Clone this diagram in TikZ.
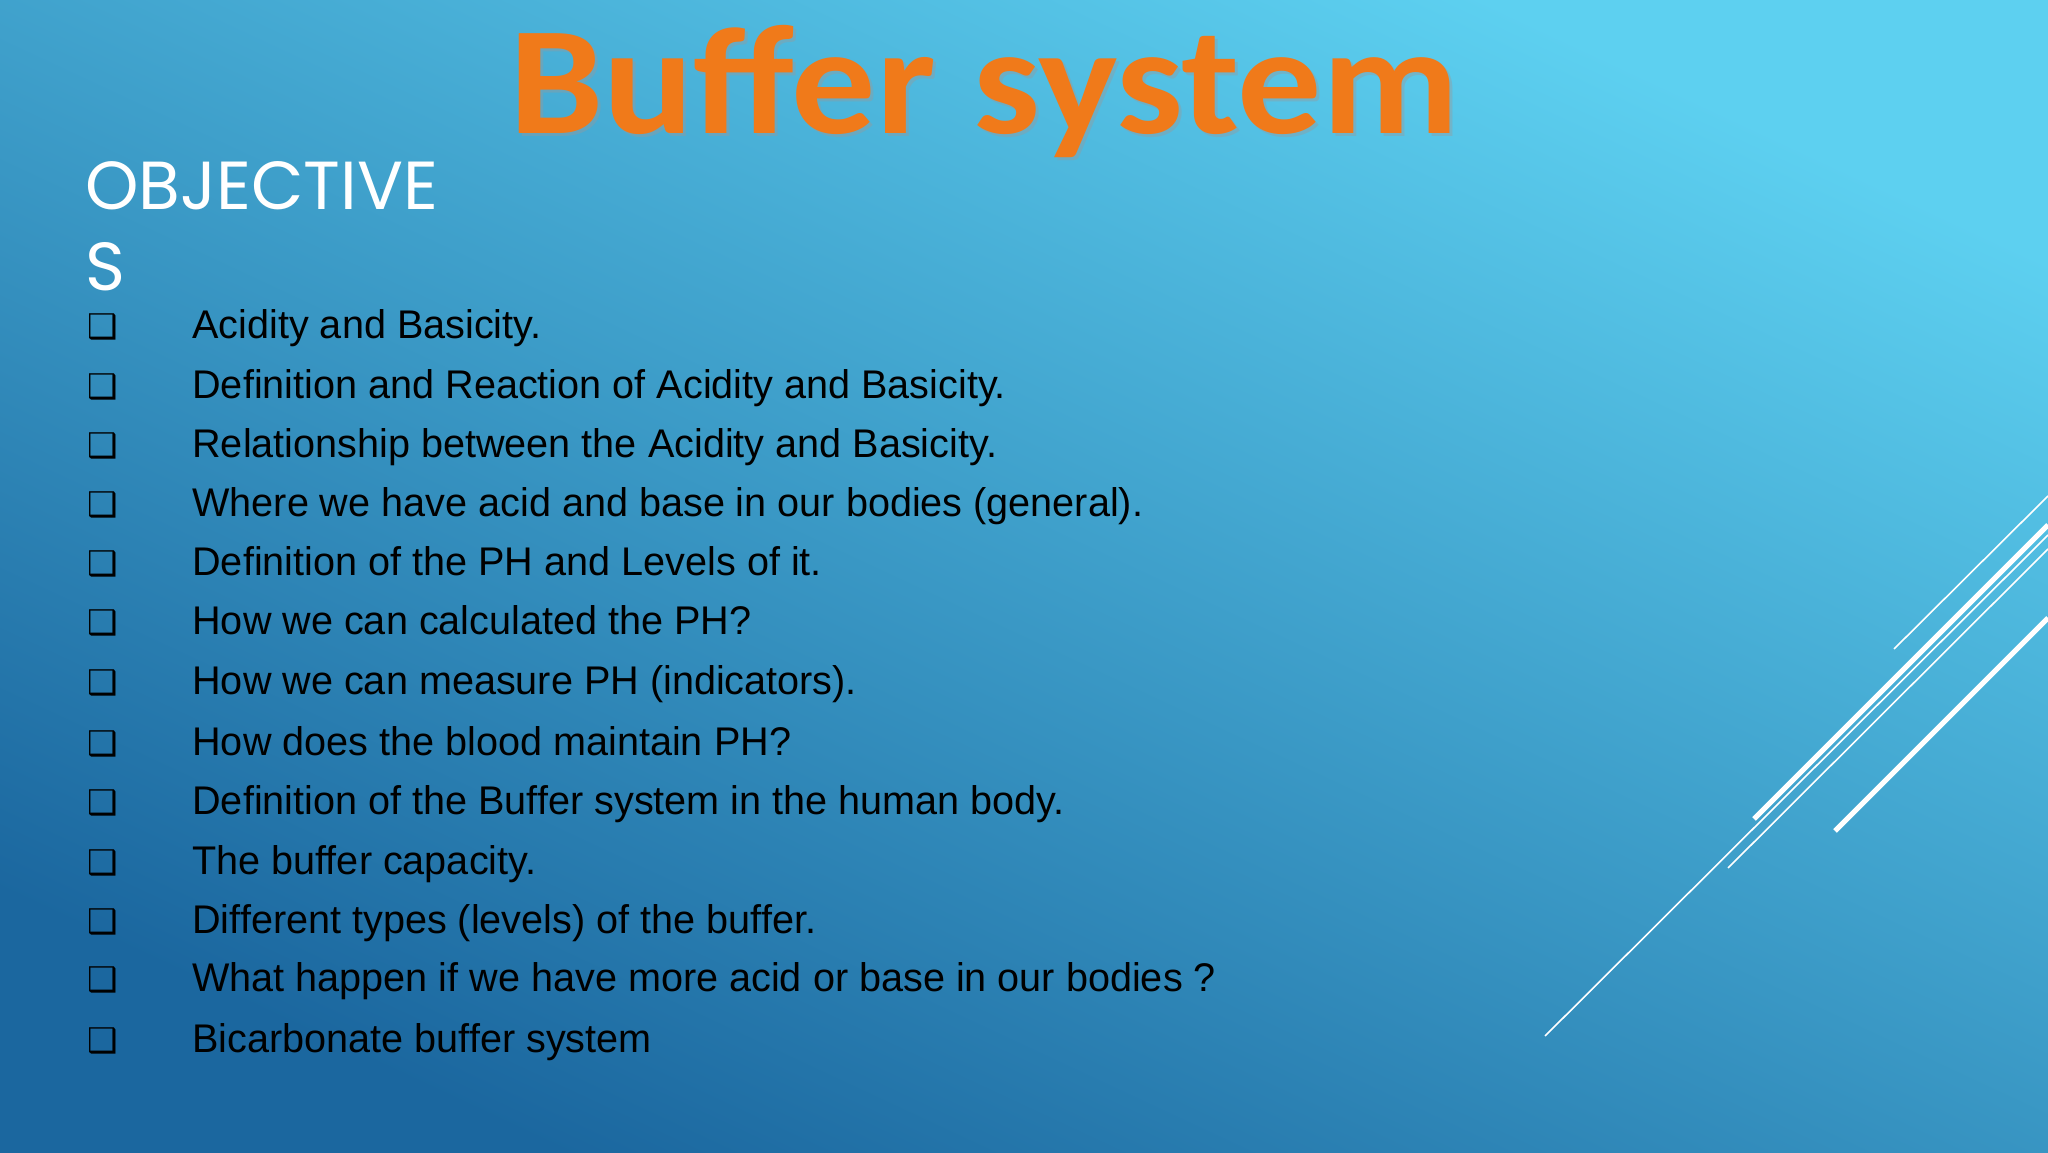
\documentclass[tikz,border=0pt]{standalone}
\usepackage{fontspec}
\setmainfont{Liberation Sans}
\newfontfamily\titlefont{Carlito}
\newfontfamily\objfont{Poppins}
\newfontfamily\symfont{DejaVu Sans}
\definecolor{bgtop}{HTML}{5DD0F0}
\definecolor{bgbot}{HTML}{1B679F}
\definecolor{titleorange}{HTML}{F07A1A}
\begin{document}
\begin{tikzpicture}[x=0.5pt,y=-0.5pt,
  item/.style={anchor=base west,inner sep=0pt,font=\fontsize{20}{24}\selectfont,text=black},
  bul/.style={anchor=base west,inner sep=0pt,font=\symfont\bfseries\fontsize{17}{20}\selectfont,text=black},
  thinline/.style={white,line width=0.8pt},
  thickline/.style={white,line width=2.6pt}]
\useasboundingbox (0,0) rectangle (2048,1152);
\shade[top color=bgtop,bottom color=bgbot,shading angle=-25] (0,0) rectangle (2048,1152);
% title
\node[anchor=base west,inner sep=0pt,xscale=1.09,text=black!40,opacity=0.4,font=\titlefont\bfseries\fontsize{77}{80}\selectfont] (tsh) at (512,136) {Buffer system};
\node[anchor=base west,inner sep=0pt,xscale=1.09,text=titleorange,font=\titlefont\bfseries\fontsize{77}{80}\selectfont] (title) at (509,133) {Buffer system};
\node[anchor=base west,inner sep=0pt,text=white,font=\objfont\fontsize{34}{36}\selectfont] (obj1) at (85,209) {OBJECTIVE};
\node[anchor=base west,inner sep=0pt,text=white,font=\objfont\fontsize{34}{36}\selectfont] (obj2) at (85,290) {S};
% items
\foreach \c/\t [count=\i] in {249/Acidity and Basicity.,
295/Definition and Reaction of Acidity and Basicity.,
340/Relationship between the Acidity and Basicity.,
385/Where we have acid and base in our bodies (general).,
430/Definition of the PH and Levels of it.,
475/How we can calculated the PH?,
521/How we can measure PH (indicators).,
568/How does the blood maintain PH?,
613/Definition of the Buffer system in the human body.,
659/The buffer capacity.,
704/Different types (levels) of the buffer.,
749/What happen if we have more acid or base in our bodies ?,
795/Bicarbonate buffer system}{
  \node[bul] (b\i) at (87,{(\c+10.5)*1.306}) {❑};
  \node[item] (t\i) at (192,{(\c+10.5)*1.306}) {\scalebox{0.99}[1]{\t}};
}
% decorative lines
\draw[thinline] (1894,649) -- (2048,496);
\draw[thickline] (1754,819) -- (2048,525);
\draw[thinline] (1545,1036) -- (2048,535);
\draw[thinline] (1728,868) -- (2048,549);
\draw[thickline] (1835,831) -- (2048,618);
\end{tikzpicture}
\end{document}
